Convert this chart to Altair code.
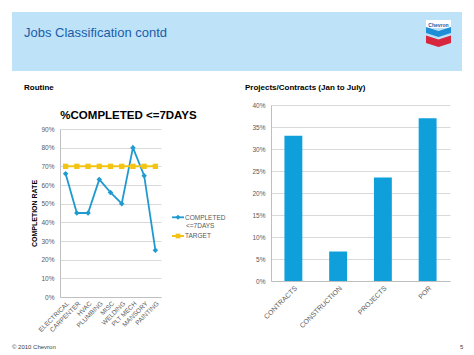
import altair as alt
import pandas as pd

# ---------------- data ----------------
trades = ["ELECTRICAL", "CARPENTER", "HVAC", "PLUMBING", "MISC",
          "WELDING", "PLT MECH", "MANSORY", "PAINTING"]
completed = [0.66, 0.45, 0.45, 0.63, 0.56, 0.50, 0.80, 0.65, 0.25]
target = [0.70, 0.70, 0.70, 0.70, 0.70, 0.70, 0.70, 0.70, 0.70]
left_ticks = [0.0, 0.1, 0.2, 0.3, 0.4, 0.5, 0.6, 0.7, 0.8, 0.9]

units = ["CONTRACTS", "CONSTRUCTION", "PROJECTS", "POR"]
shares = [0.33, 0.067, 0.235, 0.37]
right_ticks = [0.0, 0.05, 0.10, 0.15, 0.20, 0.25, 0.30, 0.35, 0.40]

FONT = "Liberation Sans"
LABEL = "#595959"
GRID = "#D9D9D9"
BLUE_LINE = "#1F9AD0"
YELLOW = "#F3C414"
BAR = "#0FA0DC"
TITLE_BLUE = "#1B5CA8"

left_df = pd.DataFrame({
    "trade": trades * 2,
    "series": ["COMPLETED <=7DAYS"] * len(trades) + ["TARGET"] * len(trades),
    "value": completed + target,
})
right_df = pd.DataFrame({"unit": units, "share": shares})
one = pd.DataFrame({"k": [0]})

# ---------------- header / decorations ----------------
def rect(x, x2, y, y2, color):
    return alt.Chart(one).mark_rect(color=color).encode(
        x=alt.value(x), x2=alt.value(x2), y=alt.value(y), y2=alt.value(y2))

def label(text, x, y, size, color="#000000", weight="normal", align="left", baseline="alphabetic"):
    return alt.Chart(one).mark_text(
        text=text, fontSize=size, color=color, fontWeight=weight, font=FONT,
        align=align, baseline=baseline).encode(x=alt.value(x), y=alt.value(y))

blue_chev = "M -1 -0.64 L 0 -0.32 L 1 -0.64 L 1 -0.16 L 0 0.16 L -1 -0.16 Z"
red_chev = "M -1 0.04 L 0 0.36 L 1 0.04 L 1 0.64 L 0 0.96 L -1 0.64 Z"

def shape(path, color, x, y):
    return alt.Chart(one).mark_point(shape=path, filled=True, color=color, size=625,
                                     opacity=1, strokeWidth=0).encode(
        x=alt.value(x), y=alt.value(y))

# header local origin = canvas (60, 12)
header = alt.layer(
    rect(-60, 414, -12, 343, "#FFFFFF"),
    rect(-48, 402, 0, 59, "#BEE3F8"),
    label("Jobs Classification contd", -36, 25, 13, TITLE_BLUE),
    rect(366, 391, 8, 16, "#FFFFFF"),
    label("Chevron", 378.5, 14.5, 5, TITLE_BLUE, "bold", "center"),
    shape(blue_chev, "#1E8FD6", 378.5, 23),
    shape(red_chev, "#D7263D", 378.5, 23),
    label("\u00a9 2010 Chevron", -48, 337, 6, "#404040"),
    label("5", 400, 337, 6, "#404040"),
).properties(width=402, height=93)

# ---------------- left chart ----------------
xl = alt.X("trade:N", sort=trades,
           scale=alt.Scale(type="point", padding=0.5),
           axis=alt.Axis(title=None, labelAngle=-45, labelFontSize=6.5, labelColor=LABEL,
                         ticks=False, domainColor="#BFBFBF", labelPadding=3, grid=False,
                         labelFont=FONT))
yl = alt.Y("value:Q",
           scale=alt.Scale(domain=[0, 0.9], range=[192, 24], nice=False, zero=True),
           axis=alt.Axis(values=left_ticks, format=".0%", title="COMPLETION RATE",
                         titleFontSize=7, titleFontWeight="bold", titleColor="#000000",
                         titleFont=FONT, titlePadding=3, labelFontSize=6.5,
                         labelColor=LABEL, labelFont=FONT, gridColor=GRID,
                         domainColor="#BFBFBF", ticks=False, labelPadding=6))

base_l = alt.Chart(left_df).encode(x=xl, y=yl)
comp = base_l.transform_filter(alt.datum.series == "COMPLETED <=7DAYS")
targ = base_l.transform_filter(alt.datum.series == "TARGET")

left = alt.layer(
    comp.mark_line(color=BLUE_LINE, strokeWidth=1.8),
    comp.mark_point(shape="diamond", filled=True, color=BLUE_LINE, size=30, opacity=1),
    targ.mark_line(color=YELLOW, strokeWidth=2),
    targ.mark_point(shape="square", filled=True, color=YELLOW, size=28, opacity=1),
    # legend
    alt.Chart(one).mark_rule(color=BLUE_LINE, strokeWidth=1.8).encode(
        x=alt.value(112), x2=alt.value(124), y=alt.value(112.3)),
    alt.Chart(one).mark_point(shape="diamond", filled=True, color=BLUE_LINE, size=25,
                              opacity=1).encode(x=alt.value(118), y=alt.value(112.3)),
    label("COMPLETED", 125, 112.5, 6.5, LABEL, baseline="middle"),
    label("<=7DAYS", 126, 120.5, 6.5, LABEL, baseline="middle"),
    alt.Chart(one).mark_rule(color=YELLOW, strokeWidth=2).encode(
        x=alt.value(112), x2=alt.value(124), y=alt.value(131)),
    alt.Chart(one).mark_point(shape="square", filled=True, color=YELLOW, size=22,
                              opacity=1).encode(x=alt.value(118), y=alt.value(131)),
    label("TARGET", 125, 131, 6.5, LABEL, baseline="middle"),
    # titles
    label("Routine", -36, -15, 8, "#000000", "bold"),
    label("%COMPLETED <=7DAYS", 68.5, 14, 11.5, "#000000", "bold", "center"),
).properties(width=101, height=192)

# ---------------- right chart ----------------
xr = alt.X("unit:N", sort=units,
           scale=alt.Scale(paddingInner=0.6, paddingOuter=0.3),
           axis=alt.Axis(title=None, labelAngle=-45, labelFontSize=7, labelColor=LABEL,
                         labelFont=FONT, ticks=False, domainColor="#BFBFBF",
                         labelPadding=3, grid=False))
yr = alt.Y("share:Q", scale=alt.Scale(domain=[0, 0.4], nice=False),
           axis=alt.Axis(values=right_ticks, format=".0%", title=None, labelFontSize=6.5,
                         labelColor=LABEL, labelFont=FONT, gridColor=GRID,
                         domainColor="#BFBFBF", ticks=False, labelPadding=6))

right = alt.layer(
    alt.Chart(right_df).mark_bar(color=BAR).encode(x=xr, y=yr),
    label("Projects/Contracts (Jan to July)", -26, -15, 8, "#000000", "bold"),
).properties(width=179, height=176)

body = alt.hconcat(left, right, spacing=110, bounds="flush")

chart = alt.vconcat(header, body, spacing=0, bounds="flush").properties(
    padding=0
).configure(font=FONT).configure_view(stroke=None)

chart.save("out.html", embed_options={"renderer": "svg", "actions": False})
